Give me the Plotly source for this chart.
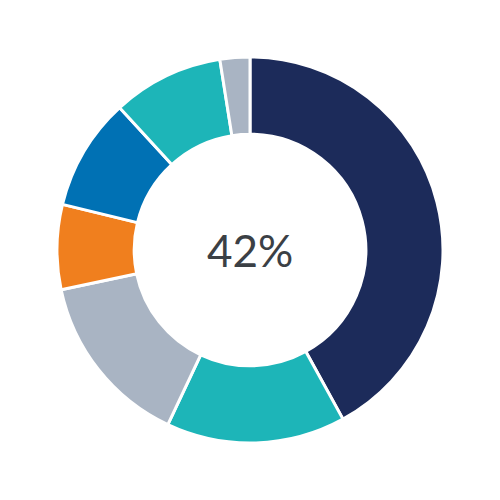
import plotly.graph_objects as go

labels = ["A", "B", "C", "D", "E", "F", "G"]
values = [42, 15, 14.7, 7.1, 9.4, 9.3, 2.5]
colors = ["#1c2b5a", "#1db5b8", "#a9b4c3", "#f07f1e", "#0071b4", "#1db5b8", "#a9b4c3"]
center_label = "42%"

trace = go.Pie(
    labels=labels,
    values=values,
    hole=0.6,
    sort=False,
    direction="clockwise",
    rotation=0,
    textinfo="none",
    hoverinfo="label+percent",
    marker=dict(colors=colors, line=dict(color="white", width=3)),
    showlegend=False,
)

# page body adds 8px, so shift the plot area up/left a bit
layout = go.Layout(
    width=500,
    height=500,
    margin=dict(l=49, r=65, t=49, b=65),
    paper_bgcolor="white",
    plot_bgcolor="white",
    annotations=[dict(
        text=center_label,
        x=0.5, y=0.5, xref="paper", yref="paper",
        showarrow=False,
        font=dict(family="Lato", size=44, color="#3b4045"),
    )],
)

fig = go.Figure(data=[trace], layout=layout)
fig.write_html("out.html")
